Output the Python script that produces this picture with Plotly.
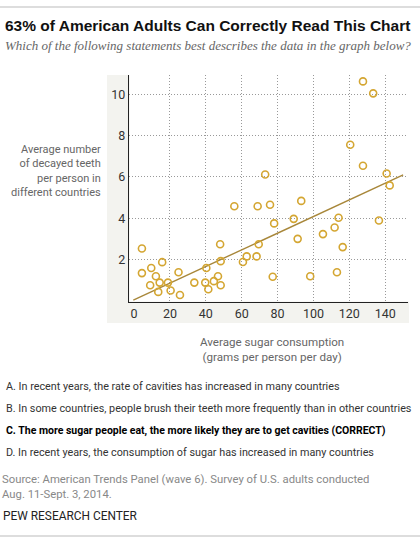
import plotly.graph_objects as go

# Sugar consumption (g/person/day) vs decayed teeth per person, by country
sugar = [4.4, 48, 15.7, 48.3, 9.6, 40.3, 4.4, 24.8, 12.2, 46.8, 14.3, 18.9,
         33.6, 39.7, 44.5, 9.0, 48.3, 13.5, 20.4, 41.4, 25.6,
         73.1, 127.6, 133.3, 120.5, 127.6, 140.8, 142.5, 55.9, 68.9, 75.8,
         78.1, 69.5, 62.8, 68.3, 60.7, 77.3, 93.2, 89.0, 114.0, 136.5,
         111.8, 105.3, 91.2, 116.3, 98.2, 113.1]
teeth = [2.53, 2.74, 1.87, 1.92, 1.59, 1.59, 1.34, 1.38, 1.19, 1.19, 0.88, 0.88,
         0.88, 0.88, 0.95, 0.75, 0.75, 0.43, 0.50, 0.56, 0.28,
         6.12, 10.63, 10.05, 7.56, 6.54, 6.17, 5.59, 4.58, 4.58, 4.65,
         3.75, 2.74, 2.15, 2.15, 1.88, 1.16, 4.84, 3.97, 4.02, 3.89,
         3.55, 3.23, 3.00, 2.60, 1.19, 1.38]

trend_x = [-0.4, 150]
trend_y = [0.03, 6.1]

x_ticks = [0, 20, 40, 60, 80, 100, 120, 140]
y_ticks = [2, 4, 6, 8, 10]

answers = [
    "A. In recent years, the rate of cavities has increased in many countries",
    "B. In some countries, people brush their teeth more frequently than in other countries",
    "<b>C. The more sugar people eat, the more likely they are to get cavities (CORRECT)</b>",
    "D. In recent years, the consumption of sugar has increased in many countries",
]

W, H = 420, 544
L, R, T, B = 129, 12, 75, 242
pw, ph = W - L - R, H - T - B

def px(x):
    return (x - L) / pw

def py(y):
    return (H - B - y) / ph

SANS = "Roboto, Liberation Sans, sans-serif"
GOLD = "#d4a632"
DOTS = "1px,2px"

fig = go.Figure()

fig.add_trace(go.Scatter(
    x=trend_x, y=trend_y, mode="lines",
    line=dict(color="#a8873a", width=1.4), hoverinfo="skip", cliponaxis=False))

fig.add_trace(go.Scatter(
    x=sugar, y=teeth, mode="markers", cliponaxis=False,
    marker=dict(symbol="circle-open", size=7, color=GOLD, line=dict(width=1.6, color=GOLD))))

shapes = [
    # grey panel behind the axes, white plot area on top
    dict(type="rect", xref="paper", yref="paper", x0=px(107), x1=px(409), y0=py(323), y1=py(75),
         fillcolor="#f3f3ef", line=dict(width=0), layer="below"),
    dict(type="rect", xref="paper", yref="paper", x0=px(129.5), x1=px(409), y0=py(301.5), y1=py(75),
         fillcolor="white", line=dict(width=0), layer="below"),
    # top and bottom rules
    dict(type="line", xref="paper", yref="paper", x0=px(0), x1=px(420), y0=py(7), y1=py(7),
         line=dict(color="#bbbbbb", width=1)),
    dict(type="line", xref="paper", yref="paper", x0=px(0), x1=px(420), y0=py(536), y1=py(536),
         line=dict(color="#bbbbbb", width=1)),
]

annos = [
    dict(x=px(3), y=py(35.5), text="<b>63% of American Adults Can Correctly Read This Chart</b>",
         xanchor="left", yanchor="bottom", font=dict(family="Liberation Sans, Arial, sans-serif", size=15.5, color="#111")),
    dict(x=px(3), y=py(35.5), text="<i>Which of the following statements best describes the data in the graph below?</i>",
         xanchor="left", yanchor="top", font=dict(family="Liberation Serif, serif", size=13, color="#666")),
    dict(x=px(103), y=py(171), text="Average number<br>of decayed teeth<br>per person in<br>different countries",
         xanchor="right", yanchor="middle", align="right", font=dict(family=SANS, size=11, color="#666")),
    dict(x=px(272), y=py(349), text="Average sugar consumption<br>(grams per person per day)",
         xanchor="center", yanchor="middle", align="center", font=dict(family=SANS, size=11.6, color="#666")),
    dict(x=px(0), y=py(487), text="Source: American Trends Panel (wave 6). Survey of U.S. adults conducted<br>Aug. 11-Sept. 3, 2014.",
         xanchor="left", yanchor="middle", align="left", font=dict(family=SANS, size=11.3, color="#888")),
    dict(x=px(1), y=py(516), text="PEW RESEARCH CENTER",
         xanchor="left", yanchor="middle", font=dict(family=SANS, size=11.9, color="#222")),
]
for i, (t, yy) in enumerate(zip(answers, [386, 408, 430, 452])):
    annos.append(dict(x=px(4), y=py(yy), text=t, xanchor="left", yanchor="middle",
                      font=dict(family=SANS, size=10.5 if i == 2 else 10.8, color="#000" if i == 2 else "#333")))
for a in annos:
    a.update(xref="paper", yref="paper", showarrow=False)

fig.update_layout(
    width=W, height=H, margin=dict(l=L, r=R, t=T, b=B),
    paper_bgcolor="white", plot_bgcolor="white",
    showlegend=False, shapes=shapes, annotations=annos,
    font=dict(family=SANS, size=12.5, color="#333"),
)
fig.update_xaxes(range=[-2.8, 152.7], tickvals=x_ticks, showgrid=False, zeroline=False,
                 showline=True, linecolor="#222", linewidth=1.3, ticks="",
                 minor=dict(tickvals=x_ticks[1:], showgrid=True, gridcolor="#999", griddash=DOTS, gridwidth=1))
fig.update_yaxes(range=[-0.06, 10.94], tickvals=y_ticks, showgrid=True, gridcolor="#999",
                 griddash=DOTS, gridwidth=1, zeroline=False,
                 showline=True, linecolor="#222", linewidth=1.3, ticks="")

# page has a default body margin; drop it so the 420px figure fits the window
fig.write_html("out.html", config={"displayModeBar": False},
               post_script="document.body.style.margin='0';")
